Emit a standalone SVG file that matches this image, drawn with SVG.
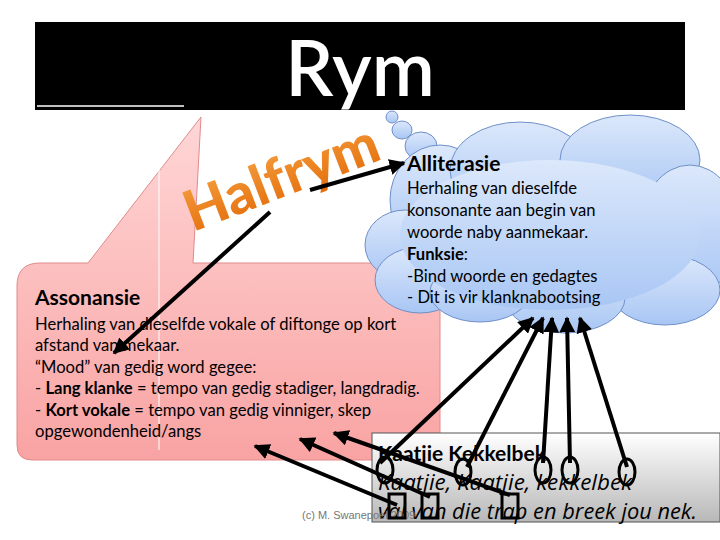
<svg xmlns="http://www.w3.org/2000/svg" width="720" height="540" viewBox="0 0 720 540">
<defs>
<linearGradient id="cl" x1="0" y1="0" x2="0" y2="1"><stop offset="0" stop-color="#dce8fb"/><stop offset="1" stop-color="#a8c6f4"/></linearGradient>
<linearGradient id="pk" x1="0" y1="0" x2="0" y2="1"><stop offset="0" stop-color="#ffd6d6"/><stop offset="1" stop-color="#f9a3a3"/></linearGradient>
<linearGradient id="gr" x1="0" y1="0" x2="0" y2="1"><stop offset="0" stop-color="#ffffff"/><stop offset="1" stop-color="#b8b8b8"/></linearGradient>
<linearGradient id="or" x1="0" y1="0" x2="0" y2="1"><stop offset="0" stop-color="#f5a040"/><stop offset="1" stop-color="#e46c0a"/></linearGradient>
<marker id="ah" viewBox="0 0 10 10" refX="9" refY="5" markerWidth="4" markerHeight="4" orient="auto"><path d="M0,0 L10,5 L0,10 z" fill="#000"/></marker>
<style>
.t{font-family:Lato,"Open Sans",sans-serif;font-size:16.6px;fill:#000}
.b{font-weight:bold}
.h{font-family:Lato,"Open Sans",sans-serif;font-weight:bold;font-size:21px}
.i{font-family:"Open Sans",sans-serif;font-style:italic;font-size:21.5px}
.c ellipse{fill:url(#cl);stroke:#6f8fc9;stroke-width:1}
.a{stroke:#000;stroke-width:4;fill:none;marker-end:url(#ah)}
.o{fill:none;stroke:#000;stroke-width:3}
</style>
</defs>
<rect width="720" height="540" fill="#fff"/>
<g id="title">
<rect x="35" y="22" width="650" height="88" fill="#000"/>
<line x1="37" y1="106" x2="184" y2="106" stroke="#fff" stroke-width="1.5"/>
<text x="360" y="96" text-anchor="middle" font-family="Lato,'Open Sans',sans-serif" font-weight="600" font-size="76" fill="#fff">Rym</text>
</g>
<g id="assonansie">
<path d="M40,263 L88,263 L201,117 L193,263 L425,263 Q440,263 440,278 L440,445 Q440,460 425,460 L32,460 Q17,460 17,445 L17,286 Q17,263 40,263 Z" fill="url(#pk)" stroke="#e08a8a"/>
<line x1="159" y1="135" x2="159" y2="450" stroke="#fff" stroke-width="1"/>
<text class="h" x="35" y="305">Assonansie</text>
<text class="t" x="35" y="330">Herhaling van dieselfde vokale of diftonge op kort</text>
<text class="t" x="35" y="351">afstand van mekaar.</text>
<text class="t" x="35" y="373">“Mood” van gedig word gegee:</text>
<text class="t" x="35" y="394">-  <tspan class="b">Lang klanke</tspan> = tempo van gedig stadiger, langdradig.</text>
<text class="t" x="35" y="416">-  <tspan class="b">Kort vokale</tspan> = tempo van gedig vinniger, skep</text>
<text class="t" x="35" y="437">opgewondenheid/angs</text>
</g>
<g id="alliterasie">
<g class="c">
<ellipse cx="392" cy="117" rx="6" ry="6"/>
<ellipse cx="402" cy="130" rx="10" ry="9"/>
<ellipse cx="421" cy="146" rx="16" ry="14"/>
<ellipse cx="440" cy="200" rx="50" ry="55"/>
<ellipse cx="405" cy="245" rx="40" ry="35"/>
<ellipse cx="420" cy="280" rx="45" ry="33"/>
<ellipse cx="520" cy="170" rx="70" ry="48"/>
<ellipse cx="630" cy="160" rx="70" ry="45"/>
<ellipse cx="690" cy="230" rx="50" ry="65"/>
<ellipse cx="665" cy="290" rx="55" ry="35"/>
<ellipse cx="565" cy="298" rx="60" ry="35"/>
<ellipse cx="480" cy="292" rx="50" ry="30"/>
</g>
<ellipse cx="550" cy="235" rx="150" ry="75" fill="url(#cl)"/>
<text class="h" x="407" y="171">Alliterasie</text>
<text class="t" x="407" y="194">Herhaling van dieselfde</text>
<text class="t" x="407" y="216">konsonante aan begin van</text>
<text class="t" x="407" y="238">woorde naby aanmekaar.</text>
<text class="t" x="407" y="260"><tspan class="b">Funksie</tspan>:</text>
<text class="t" x="407" y="282">-Bind woorde en gedagtes</text>
<text class="t" x="407" y="303">-  Dit is vir klanknabootsing</text>
</g>
<g id="halfrym">
<text x="0" y="0" transform="translate(193,232) rotate(-21)" font-family="Lato,'Open Sans',sans-serif" font-weight="900" font-size="56" fill="url(#or)">Halfrym</text>
</g>
<g id="gedig">
<rect x="372" y="433" width="348" height="89" fill="url(#gr)" stroke="#555"/>
<text class="h" x="378" y="461" font-size="23">Kaatjie Kekkelbek</text>
<text class="i" x="378" y="490" textLength="254" lengthAdjust="spacingAndGlyphs">Kaatjie, Kaatjie, kekkelbek</text>
<text class="i" x="378" y="519" textLength="319" lengthAdjust="spacingAndGlyphs">val van die trap en breek jou nek.</text>
<text x="302" y="519" font-family="'Liberation Sans',sans-serif" font-size="11" fill="#777">(c) M. Swanepoel 2009</text>
</g>
<g id="connectors">
<line class="a" x1="310" y1="190" x2="404" y2="163"/>
<line class="a" x1="270" y1="212" x2="114" y2="353"/>
<line class="a" x1="380" y1="463" x2="533" y2="318"/>
<line class="a" x1="467" y1="467" x2="543" y2="318"/>
<line class="a" x1="543" y1="463" x2="552" y2="318"/>
<line class="a" x1="570" y1="463" x2="567" y2="318"/>
<line class="a" x1="627" y1="467" x2="580" y2="318"/>
<line class="a" x1="397" y1="505" x2="255" y2="446"/>
<line class="a" x1="430" y1="497" x2="300" y2="439"/>
<line class="a" x1="510" y1="495" x2="334" y2="433"/>
<ellipse class="o" cx="385" cy="470" rx="8" ry="13"/>
<ellipse class="o" cx="463" cy="472" rx="8" ry="13"/>
<ellipse class="o" cx="543" cy="470" rx="8" ry="13"/>
<ellipse class="o" cx="570" cy="470" rx="8" ry="13"/>
<ellipse class="o" cx="627" cy="472" rx="8" ry="13"/>
<rect class="o" x="389" y="494" width="16" height="24"/>
<rect class="o" x="422" y="494" width="16" height="24"/>
<rect class="o" x="502" y="494" width="16" height="24"/>
</g>
</svg>
